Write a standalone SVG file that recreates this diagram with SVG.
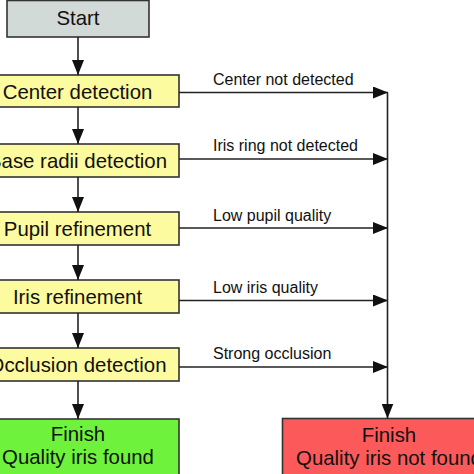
<svg xmlns="http://www.w3.org/2000/svg" width="474" height="474" viewBox="0 0 474 474">
<defs>
<marker id="ah" markerUnits="userSpaceOnUse" markerWidth="16" markerHeight="12" refX="15" refY="6" orient="auto">
<path d="M0,0 L15,6 L0,12 Z" fill="#111"/>
</marker>
<style>
.box{stroke:#333;stroke-width:1.6}
.step{fill:#fdfba0}
.bt{font-family:"Liberation Sans",Arial,sans-serif;font-size:20.4px;fill:#111;text-anchor:middle}
.lt{font-family:"Liberation Sans",Arial,sans-serif;font-size:16px;fill:#111}
.c{stroke:#222;stroke-width:1.6;fill:none}
</style>
</defs>
<rect width="474" height="474" fill="#fff"/>
<g id="start"><rect class="box" x="7" y="0.5" width="142" height="36.5" fill="#d2dad8"/><text class="bt" x="78" y="24.5">Start</text></g>
<g id="center"><rect class="box step" x="-23" y="75" width="202" height="32"/><text class="bt" x="77.5" y="98.5">Center detection</text></g>
<g id="base"><rect class="box step" x="-23" y="144" width="202" height="33"/><text class="bt" x="77.5" y="168">Base radii detection</text></g>
<g id="pupil"><rect class="box step" x="-23" y="212" width="202" height="33"/><text class="bt" x="77.5" y="236">Pupil refinement</text></g>
<g id="iris"><rect class="box step" x="-23" y="280" width="202" height="33"/><text class="bt" x="77.5" y="304">Iris refinement</text></g>
<g id="occlusion"><rect class="box step" x="-23" y="348" width="202" height="33"/><text class="bt" x="77.5" y="372">Occlusion detection</text></g>
<g id="found"><rect class="box" x="-23" y="419" width="202" height="70" fill="#6ef23c"/><text class="bt" x="78" y="441">Finish</text><text class="bt" x="78" y="464">Quality iris found</text></g>
<g id="notfound"><rect class="box" x="282.5" y="418.5" width="214" height="70" fill="#fc5a5a"/><text class="bt" x="389" y="441.5">Finish</text><text class="bt" x="389" y="464.5">Quality iris not found</text></g>
<g id="connectors">
<line class="c" x1="78" y1="37" x2="78" y2="75" marker-end="url(#ah)"/>
<line class="c" x1="78" y1="107" x2="78" y2="144" marker-end="url(#ah)"/>
<line class="c" x1="78" y1="177" x2="78" y2="212" marker-end="url(#ah)"/>
<line class="c" x1="78" y1="245" x2="78" y2="280" marker-end="url(#ah)"/>
<line class="c" x1="78" y1="313" x2="78" y2="348" marker-end="url(#ah)"/>
<line class="c" x1="78" y1="381" x2="78" y2="419" marker-end="url(#ah)"/>
<line class="c" x1="179" y1="92.5" x2="388" y2="92.5" marker-end="url(#ah)"/>
<line class="c" x1="179" y1="159" x2="388" y2="159" marker-end="url(#ah)"/>
<line class="c" x1="179" y1="228" x2="388" y2="228" marker-end="url(#ah)"/>
<line class="c" x1="179" y1="300.5" x2="388" y2="300.5" marker-end="url(#ah)"/>
<line class="c" x1="179" y1="367" x2="388" y2="367" marker-end="url(#ah)"/>
<line class="c" x1="387.5" y1="92.5" x2="387.5" y2="418.5" marker-end="url(#ah)"/>
<text class="lt" x="213" y="85">Center not detected</text>
<text class="lt" x="213" y="151">Iris ring not detected</text>
<text class="lt" x="213" y="220.5">Low pupil quality</text>
<text class="lt" x="213" y="293">Low iris quality</text>
<text class="lt" x="213" y="359">Strong occlusion</text>
</g>
</svg>
